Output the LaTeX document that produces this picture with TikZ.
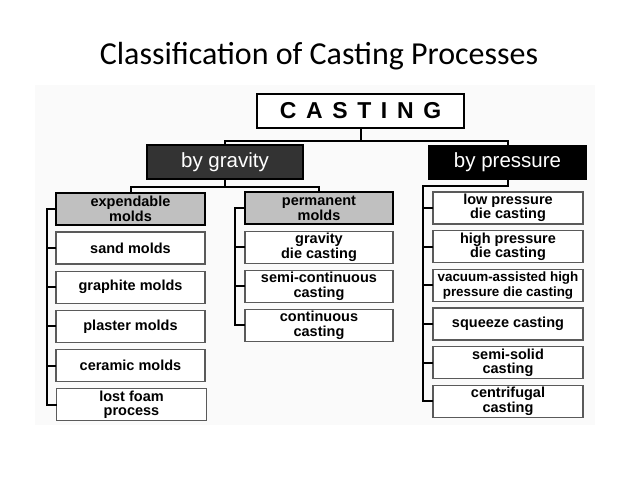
\documentclass[tikz,border=0pt]{standalone}
\usepackage{fontspec}
\setmainfont{Liberation Sans}
\newfontfamily\titlefont{Carlito}
\newfontfamily\castfont[LetterSpace=42]{Liberation Sans}
\usepackage{tikz}
\usetikzlibrary{positioning}
\definecolor{darkhead}{RGB}{51,51,51}
\definecolor{grouphead}{RGB}{192,192,192}
\definecolor{leafline}{RGB}{90,90,90}
\tikzset{
  tree/.style={draw=black,line width=2pt},
  leaf/.style={draw=leafline,line width=1.3pt,fill=white,minimum width=149pt,minimum height=32pt,
    inner sep=0pt,outer sep=0pt,align=center,font=\fontsize{14.5}{14.5}\selectfont\bfseries},
  grouphd/.style={leaf,draw=black,line width=2pt,fill=grouphead},
  modehd/.style={draw=black,line width=1.5pt,minimum width=156pt,minimum height=34pt,inner sep=0pt,
    text=white,font=\fontsize{20.5}{21}\selectfont}
}
\begin{document}
\begin{tikzpicture}[x=1pt,y=-1pt]
  \useasboundingbox (0,0) rectangle (638,478);
  \fill[black!2] (35,85) rectangle (595,425);
  \node (title) at (319,56) {\titlefont\fontsize{32}{34}\selectfont Classification of Casting Processes};
  % top of the tree
  \node[draw,line width=2pt,fill=white,minimum width=207pt,minimum height=34pt,inner sep=0pt,
    font=\castfont\fontsize{23}{24}\selectfont\bfseries] (cast) at (360.5,111) {CASTING};
  \node[modehd,fill=darkhead] (grav) at (225,162) {by gravity};
  \node[modehd,fill=black,minimum width=157pt] (pres) at (507.5,162.5) {by pressure};
  \draw[tree] (cast.south) -- ++(0,12) coordinate (split);
  \draw[tree] (split) -| (grav.north);
  \draw[tree] (split) -| (pres.north);
  % by gravity
  \node[grouphd] (exp) at (130.5,209) {expendable\\molds};
  \node[grouphd,minimum width=148pt] (perm) at (319,208.5) {permanent\\molds};
  \draw[tree] (grav.south) -- ++(0,7) coordinate (gsplit);
  \draw[tree] (gsplit) -| (exp.north);
  \draw[tree] (gsplit) -| (perm.north);
  \node[leaf,below=7pt of exp] (sand) {sand molds};
  \node[leaf,below=7.2pt of sand] (graph) {graphite molds};
  \node[leaf,below=7.2pt of graph] (plast) {plaster molds};
  \node[leaf,below=7.2pt of plast] (ceram) {ceramic molds};
  \node[leaf,below=7pt of ceram,minimum width=150pt,xshift=1pt] (foam) {lost foam\\process};
  \draw[tree] (exp.west) -- ++(-9,0) |- (foam.west);
  \foreach \n in {sand,graph,plast,ceram}
    \draw[tree] (\n.west) -- ++(-9,0);
  \node[leaf,minimum width=148pt,below=7pt of perm] (gdie) {gravity\\die casting};
  \node[leaf,minimum width=148pt,below=7pt of gdie] (semic) {semi-continuous\\casting};
  \node[leaf,minimum width=148pt,below=7pt of semic] (cont) {continuous\\casting};
  \draw[tree] (perm.west) -- ++(-10,0) |- (cont.west);
  \foreach \n in {gdie,semic}
    \draw[tree] (\n.west) -- ++(-10,0);
  % by pressure
  \node[leaf,minimum width=150pt] (lowp) at (508,208) {low pressure\\die casting};
  \node[leaf,minimum width=150pt,below=6.7pt of lowp] (highp) {high pressure\\die casting};
  \node[leaf,minimum width=150pt,below=6.7pt of highp,font=\fontsize{13.4}{14.5}\selectfont\bfseries]
    (vac) {vacuum-assisted high\\pressure die casting};
  \node[leaf,minimum width=150pt,below=6.7pt of vac] (sqz) {squeeze casting};
  \node[leaf,minimum width=150pt,below=6.7pt of sqz] (semis) {semi-solid\\casting};
  \node[leaf,minimum width=150pt,below=6.7pt of semis] (centr) {centrifugal\\casting};
  \draw[tree] (pres.south) -- ++(0,6) -| ([xshift=-10pt]centr.west) -- (centr.west);
  \foreach \n in {lowp,highp,vac,sqz,semis}
    \draw[tree] (\n.west) -- ++(-10,0);
\end{tikzpicture}
\end{document}
